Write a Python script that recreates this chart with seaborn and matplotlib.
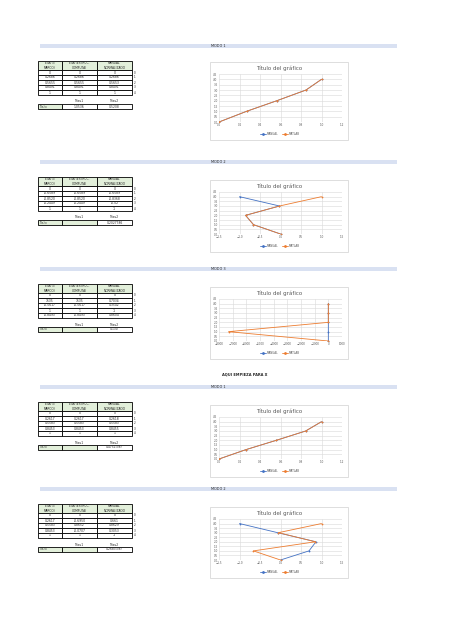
import matplotlib
matplotlib.use("Agg")
import matplotlib.pyplot as plt
import seaborn as sns
import pandas as pd
from matplotlib.patches import Rectangle

sns.set_theme(style="whitegrid")
plt.rcParams['font.family'] = ['DejaVu Sans']

W, H = 474, 632
levels = [0, 1, 2, 3, 4]
headers_col = ["EIIA (3\nMARCO)", "EIIA (ESTRUC.\nCOMPUTA)", "MANUAL\nNORMALIZADO"]

# Data
y1_rows = [["0", "0", "0"], ["0.2686", "0.2686", "0.2686"], ["0.5655", "0.5655", "0.5653"], ["0.8491", "0.8491", "0.8491"], ["1", "1", "1"]]
y2_rows = [["0", "0", "0"], ["-0.6589", "-0.6589", "-0.6589"], ["-0.8520", "-0.8520", "-0.8368"], ["-0.2449", "-0.2449", "-0.02"], ["1", "1", "-1"]]
y3_rows = [["0", "0", "0"], ["7535", "7535", "0.7034"], ["-0.5617", "-0.5617", "0.3542"], ["1", "1", "-1"], ["-0.8493", "-0.8493", "0.8604"]]
x1_rows = [["0", "0", "0"], ["0.2617", "0.2617", "0.2618"], ["0.5583", "0.5583", "0.5583"], ["0.8453", "0.8453", "0.8455"], ["1", "1", "1"]]
x2_rows = [["0", "0", "0"], ["0.2617", "-0.6950", "0.661"], ["0.5583", "0.8652", "0.8629"], ["0.8453", "-0.0707", "0.3053"], ["1", "1", "-1"]]
periods = [("1.0536", "0.5208"), ("", "0.2027786"), ("", "0.130"), ("", "0.4751(38)"), ("", "0.2683(38)")]

y1_manual = [0, 0.2686, 0.5655, 0.8491, 1]
y1_matlab = [0, 0.2686, 0.5655, 0.8491, 1]
y2_manual = [0, -0.6589, -0.8520, -0.0245, -1]
y2_matlab = [0, -0.6589, -0.8520, -0.0245, 1]
y3_manual = [0, 0.7034, 0.3542, -1, 0.8604]
y3_matlab = [0, -7300, -0.5617, 1, -0.8493]
x1_manual = [0, 0.2617, 0.5583, 0.8453, 1]
x1_matlab = [0, 0.2617, 0.5583, 0.8453, 1]
x2_manual = [0, 0.6950, 0.8652, -0.0707, -1]
x2_matlab = [0, -0.6600, 0.8500, -0.0500, 1]

sections = [
    ("MODO 1", 46, y1_rows, y1_manual, y1_matlab, (0, 1.2, 0.2), 62, 140),
    ("MODO 2", 162, y2_rows, y2_manual, y2_matlab, (-1.5, 1.5, 0.5), 180, 252),
    ("MODO 3", 269, y3_rows, y3_manual, y3_matlab, (-8000, 1000, 1000), 287, 359),
    ("MODO 1", 387, x1_rows, x1_manual, x1_matlab, (0, 1.2, 0.2), 405, 477),
    ("MODO 2", 489, x2_rows, x2_manual, x2_matlab, (-1.5, 1.5, 0.5), 507, 578),
]

fig = plt.figure(figsize=(W / 100, H / 100), dpi=100)
bg = fig.add_axes([0, 0, 1, 1])
bg.set_xlim(0, W)
bg.set_ylim(H, 0)
bg.axis("off")

def fax(x0, y0, x1, y1):
    return [x0 / W, 1 - y1 / H, (x1 - x0) / W, (y1 - y0) / H]

bg.text(245, 374, "AQUI EMPIEZA PARA X", fontsize=2.6, ha="center", va="center", weight="bold")

cols = [38, 62, 97, 132]
green = "#e2efda"
for i, (title, hy, rows, man, mat, xr, cy0, cy1) in enumerate(sections):
    bg.add_patch(Rectangle((40, hy - 2), 357, 4, color="#d9e1f2", lw=0))
    bg.text(218, hy, title, fontsize=2.5, ha="center", va="center")
    ty = hy + 15
    # header row
    for c in range(3):
        bg.add_patch(Rectangle((cols[c], ty), cols[c + 1] - cols[c], 9, facecolor=green, edgecolor="black", lw=0.6))
        bg.text((cols[c] + cols[c + 1]) / 2, ty + 4.5, headers_col[c], fontsize=2.2, ha="center", va="center", linespacing=1.6)
    for r, row in enumerate(rows):
        yy = ty + 9 + r * 5
        for c in range(3):
            bg.add_patch(Rectangle((cols[c], yy), cols[c + 1] - cols[c], 5, facecolor="white", edgecolor="black", lw=0.6))
            bg.text((cols[c] + cols[c + 1]) / 2, yy + 2.5, row[c], fontsize=2.2, ha="center", va="center")
        bg.text(133.5, yy + 2.5, str(r), fontsize=2, ha="left", va="center")
    py = ty + 9 + 25 + 9
    bg.text(79, py - 2.5, "Tfisu1", fontsize=2.2, ha="center", va="center")
    bg.text(114, py - 2.5, "Tfisu2", fontsize=2.2, ha="center", va="center")
    fills = [green, green if periods[i][0] == "" else "white", "white"]
    texts = ["T(s)=", periods[i][0], periods[i][1]]
    for c in range(3):
        bg.add_patch(Rectangle((cols[c], py), cols[c + 1] - cols[c], 5, facecolor=fills[c], edgecolor="black", lw=0.6))
        bg.text(cols[c] + 1 if c == 0 else (cols[c] + cols[c + 1]) / 2, py + 2.5, texts[c], fontsize=2.2,
                ha="left" if c == 0 else "center", va="center")
    # chart box
    bg.add_patch(Rectangle((210, cy0), 138, cy1 - cy0, facecolor="white", edgecolor="#d0d0d0", lw=0.5))
    bg.text(279, cy0 + 6, "Título del gráfico", fontsize=4, ha="center", va="center", color="#595959")
    ax = fig.add_axes(fax(219, cy0 + 12, 342, cy1 - 18))
    df = pd.DataFrame({"x": man + mat, "y": levels + levels,
                       "s": ["MANUAL"] * 5 + ["MATLAB"] * 5})
    sns.lineplot(data=df, x="x", y="y", hue="s", sort=False, estimator=None,
                 palette=["#4472C4", "#ED7D31"], marker="o", markersize=1.3,
                 markeredgewidth=0, lw=0.6, ax=ax, legend=False)
    ax.set_xlim(xr[0], xr[1])
    ax.set_ylim(0, 4.5)
    import numpy as np
    ax.set_xticks(np.arange(xr[0], xr[1] + xr[2] / 2, xr[2]))
    ax.set_yticks(np.arange(0, 4.51, 0.5))
    ax.tick_params(labelsize=2, length=0, pad=1, colors="#595959")
    ax.set_xlabel("")
    ax.set_ylabel("")
    for s in ax.spines.values():
        s.set_visible(False)
    ax.grid(True, color="#d9d9d9", lw=0.4)
    ly = cy1 - 6
    bg.plot([260, 266], [ly, ly], color="#4472C4", lw=0.6)
    bg.plot([263], [ly], "o", color="#4472C4", ms=1)
    bg.text(267, ly, "MANUAL", fontsize=2, va="center", color="#595959")
    bg.plot([282, 288], [ly, ly], color="#ED7D31", lw=0.6)
    bg.plot([285], [ly], "o", color="#ED7D31", ms=1)
    bg.text(289, ly, "MATLAB", fontsize=2, va="center", color="#595959")

fig.savefig("out.png", dpi=100)
